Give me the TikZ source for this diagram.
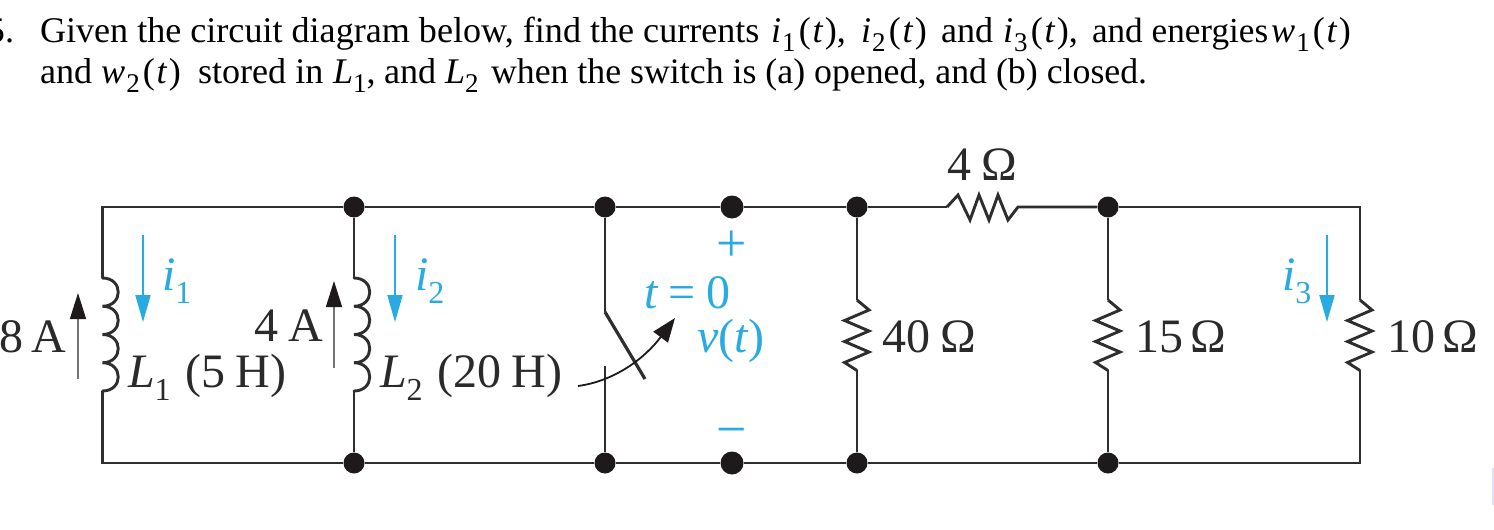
\documentclass[tikz,border=0pt]{standalone}
\usepackage{fontspec}
\setmainfont{Liberation Serif}
\usetikzlibrary{arrows.meta}
\definecolor{wire}{HTML}{2E2E2E}
\definecolor{dotc}{HTML}{1E1A1C}
\definecolor{cyanc}{HTML}{29ABE2}
\definecolor{txt}{HTML}{2A2A2A}
\newcommand{\coilpath}{.. controls +(21,0) and +(21,0) .. ++(0,28.25)
  .. controls +(21,0) and +(21,0) .. ++(0,28.25)
  .. controls +(21,0) and +(21,0) .. ++(0,28.25)
  .. controls +(21,0) and +(21,0) .. ++(0,28.25)}
\newcommand{\zigv}{-- ++(12,10) -- ++(-24.5,10.5) -- ++(24.5,10.5) -- ++(-24.5,10.5) -- ++(24.5,10.5) -- ++(-24.5,10.5) -- ++(12.5,8)}
\newcommand{\zigh}{-- ++(11,-12) -- ++(12,25) -- ++(9,-25) -- ++(10,25) -- ++(9,-25) -- ++(10,25) -- ++(10,-13)}
\newcommand{\lowsub}[1]{\raisebox{-0.28em}{\fontsize{16}{17}\selectfont #1}}
\newcommand{\qsub}[1]{\raisebox{-0.27em}{\fontsize{13.5}{14}\selectfont #1}}
\newcommand{\qfun}[2]{\textit{#1}\kern0.6pt\qsub{#2}\kern1.6pt(\kern0.8pt\textit{t}\kern0.8pt)}
\tikzset{
  wirel/.style={draw=wire,line width=1.45pt,line join=miter},
  junc/.style={circle,fill=dotc,inner sep=0pt,minimum size=10.5pt},
  juncb/.style={circle,fill=dotc,inner sep=0pt,minimum size=11.5pt},
  q/.style={anchor=base west,inner sep=0pt,outer sep=0pt,text=black,font=\fontsize{18.05}{20}\selectfont},
  lab/.style={anchor=base west,inner sep=0pt,outer sep=0pt,text=txt,font=\fontsize{24}{26}\selectfont},
  blab/.style={anchor=base west,inner sep=0pt,outer sep=0pt,text=cyanc,font=\fontsize{24}{26}\selectfont},
  sgn/.style={inner sep=0pt,outer sep=0pt,text=cyanc,font=\fontsize{27}{28}\selectfont},
  blueArr/.style={draw=cyanc,line width=0.7pt,-{Triangle[length=13.5pt,width=7.6pt,color=cyanc]}},
  srcArr/.style={draw=black!55,line width=0.7pt,-{Triangle[length=13pt,width=8pt,color=dotc]}},
}
\begin{document}
\begin{tikzpicture}[x=0.5pt,y=-0.5pt]
\useasboundingbox[fill=white] (0,0) rectangle (1494,530);
\fill[blue!12] (1492,468) rectangle (1494,505);
% question text, line 1
\node[q] (q0) at (-13,42) {5.};
\node[q] (q1) at (40,42) {Given the circuit diagram below, find the currents};
\node[q] (m1) at (771,42) {\qfun{i}{1},};
\node[q] (m2) at (861,42) {\qfun{i}{2}};
\node[q] (q1b) at (941,42) {and};
\node[q] (m3) at (1003,42) {\qfun{i}{3},};
\node[q,font=\fontsize{17.6}{20}\selectfont] (q1c) at (1092,42) {and energies};
\node[q] (m4) at (1271,42) {\qfun{w}{1}};
% question text, line 2
\node[q] (q2) at (40,83) {and};
\node[q] (m5) at (101,83) {\qfun{w}{2}};
\node[q] (q2b) at (198,83) {stored in};
\node[q] (m6) at (333,83) {\textit{L}\qsub{1},};
\node[q] (q2c) at (384,83) {and};
\node[q] (m7) at (445,83) {\textit{L}\qsub{2}};
\node[q,font=\fontsize{17.9}{20}\selectfont] (q2d) at (491,83) {when the switch is (a) opened, and (b) closed.};
% corners and junctions
\coordinate (tl) at (102.5,207);
\coordinate (bl) at (102.5,463);
\coordinate (tr) at (1360,207);
\coordinate (br) at (1360,463);
\node[junc] (t1) at (354,207) {};
\node[junc] (b1) at (354,463) {};
\node[junc] (t2) at (605,207) {};
\node[junc] (b2) at (605,463) {};
\node[juncb] (t3) at (732,207) {};
\node[juncb] (b3) at (732,463) {};
\node[junc] (t4) at (857,207) {};
\node[junc] (b4) at (857,463) {};
\node[junc] (t5) at (1108,207) {};
\node[junc] (b5) at (1108,463) {};
% element terminals
\coordinate (c1a) at (102.5,278);
\coordinate (c1b) at (102.5,391);
\coordinate (c2a) at (354,278);
\coordinate (c2b) at (354,391);
\coordinate (r1a) at (857,300);
\coordinate (r1b) at (857,370);
\coordinate (r2a) at (1108,300);
\coordinate (r2b) at (1108,370);
\coordinate (r3a) at (1360,300);
\coordinate (r3b) at (1360,370);
\coordinate (r4a) at (947,207);
\coordinate (sw1) at (605,312);
\coordinate (sw2) at (605,366);
\coordinate (blade) at (645,379);
\coordinate (aS) at (578,386);
\coordinate (aE) at (675,318);
% wires
\path[wirel] (b1) -- (bl) -- (c1b) (c1a) -- (tl) -- (t1);
\path[wirel] (t1) -- (t2) -- (t3) -- (t4) -- (r4a);
\path[wirel] (b1) -- (b2) -- (b3) -- (b4) -- (b5) -- (br) -- (r3b);
\path[wirel] (r3a) -- (tr) -- (t5);
\path[wirel] (t1) -- (c2a) (c2b) -- (b1);
\path[wirel] (t4) -- (r1a) (r1b) -- (b4);
\path[wirel] (t5) -- (r2a) (r2b) -- (b5);
\path[wirel] (t2) -- (sw1) (sw2) -- (b2);
\path[wirel,line width=1.6pt] (sw1) -- (blade);
% inductors
\path[wirel,line cap=round] (c1a) \coilpath;
\path[wirel,line cap=round] (c2a) \coilpath;
% resistors
\path[wirel] (r1a) \zigv;
\path[wirel] (r2a) \zigv;
\path[wirel] (r3a) \zigv;
\path[wirel] (r4a) \zigh -- (t5);
% switch arrow
\draw[draw=dotc,line width=0.9pt,-{Triangle[length=12pt,width=9pt,color=dotc]}] (aS) .. controls (615,381) and (645,358) .. (aE);
% current arrows
\coordinate (i1s) at (143,235); \coordinate (i1e) at (143,322);
\coordinate (i2s) at (395,235); \coordinate (i2e) at (395,322);
\coordinate (i3s) at (1327,235); \coordinate (i3e) at (1327,322);
\draw[blueArr] (i1s) -- (i1e);
\draw[blueArr] (i2s) -- (i2e);
\draw[blueArr] (i3s) -- (i3e);
\coordinate (s1s) at (78,379); \coordinate (s1e) at (78,293);
\coordinate (s2s) at (334,368); \coordinate (s2e) at (334,281);
\draw[srcArr] (s1s) -- (s1e);
\draw[srcArr] (s2s) -- (s2e);
% labels
\node[blab] (li1) at (162,290) {\textit{i}\lowsub{1}};
\node[blab] (li2) at (415,290) {\textit{i}\lowsub{2}};
\node[blab] (li3) at (1282,290) {\textit{i}\lowsub{3}};
\node[blab] (lt0) at (644,308) {\textit{t}\kern0.22em=\kern0.22em0};
\node[blab] (lvt) at (697,352) {\textit{v}(\textit{t})};
\node[sgn] (lp) at (732,246) {+};
\node[sgn] (lm) at (732,438) {−};
\node[lab,anchor=base east] (l8) at (66,352) {8\kern0.16em A};
\node[lab,anchor=base east] (l4) at (323,341) {4\kern0.2em A};
\node[lab] (ll1) at (128,387) {\textit{L}\lowsub{1}\kern0.3em(5\kern0.22em H)};
\node[lab] (ll2) at (380,387) {\textit{L}\lowsub{2}\kern0.3em(20\kern0.22em H)};
\node[lab] (r40) at (882,352) {40\kern0.22em Ω};
\node[lab] (r15) at (1135,352) {15\kern0.16em Ω};
\node[lab] (r10) at (1387,352) {10\kern0.16em Ω};
\node[lab] (r4) at (947,180) {4\kern0.22em Ω};
\end{tikzpicture}
\end{document}
